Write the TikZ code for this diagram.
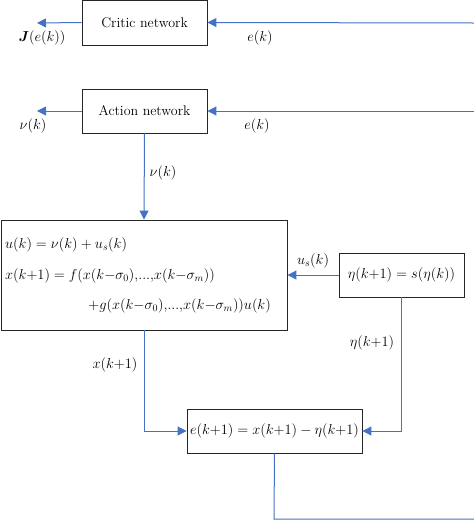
\documentclass[tikz,border=0pt]{standalone}
\usepackage{amsmath,bm}
\usetikzlibrary{arrows.meta}
\definecolor{linkblue}{RGB}{68,114,196}
\tikzset{
  box/.style={draw=black!85, line width=0.9pt, inner sep=0pt, font=\fontsize{14}{17}\selectfont},
  arr/.style={draw=linkblue, line width=1pt, -{Triangle[length=9pt,width=9pt]}},
  wire/.style={draw=linkblue, line width=1pt},
  lab/.style={inner sep=0pt, font=\fontsize{14}{17}\selectfont},
}
\begin{document}
\begin{tikzpicture}[x=1pt,y=-1pt]
\useasboundingbox (0,0) rectangle (474,520);
% boxes
\node[box, minimum width=125pt, minimum height=45pt] (critic) at (144.5,22.5) {Critic network};
\node[box, minimum width=125pt, minimum height=44pt] (action) at (144.5,111) {Action network};
\node[box, minimum width=286pt, minimum height=110pt] (plant) at (144,275) {};
\node[box, minimum width=125pt, minimum height=44pt] (eta) at (401.5,275) {$\eta(k{+}1)=s(\eta(k))$};
\node[box, minimum width=175pt, minimum height=44pt] (ebox) at (274.5,431) {$e(k{+}1)=x(k{+}1)-\eta(k{+}1)$};
% plant text
\node[lab, anchor=west] (l1) at (5,245) {$u(k)=\nu(k)+u_s(k)$};
\node[lab, anchor=west] (l2) at (5,276) {$x(k{+}1)=f(x(k{-}\sigma_0){,}...{,}x(k{-}\sigma_m))$};
\node[lab, anchor=east] (l3) at (271,306) {${+}g(x(k{-}\sigma_0){,}...{,}x(k{-}\sigma_m))u(k)$};
% free ends
\coordinate (jout) at (37,23);
\coordinate (vout) at (37,111);
\coordinate (ein1) at (474,23);
\coordinate (ein2) at (474,111);
\coordinate (corner) at (274,519);
\coordinate (eout) at (474,519);
% connectors
\draw[arr] (critic.west) -- (jout);
\draw[arr] (action.west) -- (vout);
\draw[arr] (ein1) -- (critic.east);
\draw[arr] (ein2) -- (action.east);
\draw[arr] (action.south) -- (plant.north);
\draw[arr] (eta.west) -- (plant.east);
\draw[arr] (eta.south) |- (ebox.east);
\draw[arr] (plant.south) |- (ebox.west);
\draw[wire] (ebox.south) -- (corner) -- (eout);
% labels
\node[lab] (tJ) at (42,38) {$\bm{J}(e(k))$};
\node[lab] (te1) at (260,38) {$e(k)$};
\node[lab] (tv1) at (33,126) {$\nu(k)$};
\node[lab] (te2) at (257,126) {$e(k)$};
\node[lab] (tv2) at (163,173) {$\nu(k)$};
\node[lab] (tus) at (313,261) {$u_s(k)$};
\node[lab] (teta) at (372,343) {$\eta(k{+}1)$};
\node[lab] (tx) at (115,365) {$x(k{+}1)$};
\end{tikzpicture}
\end{document}
